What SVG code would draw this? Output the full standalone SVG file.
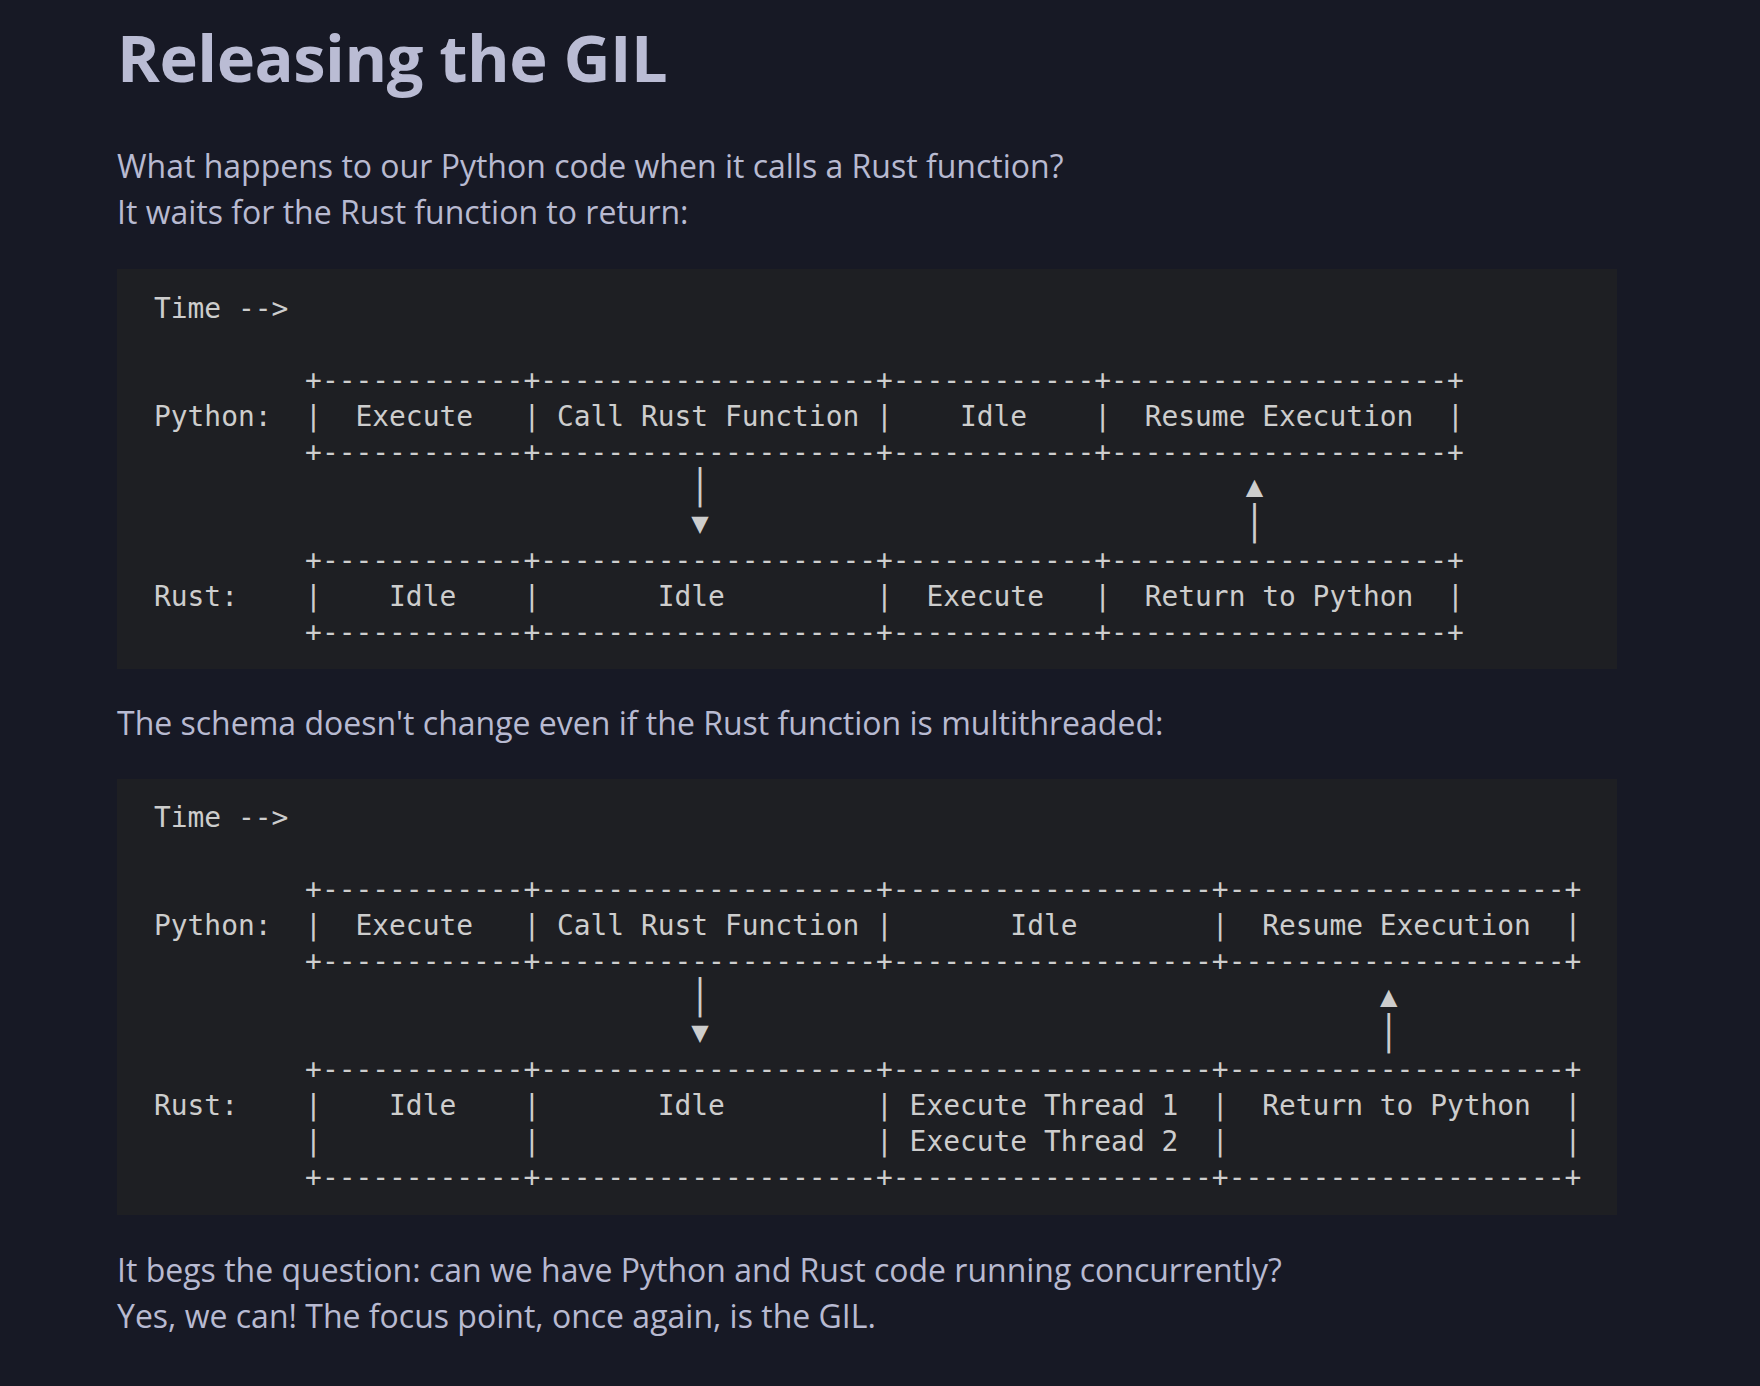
<svg xmlns="http://www.w3.org/2000/svg" width="1760" height="1386" viewBox="0 0 1760 1386">
<style>
.bg{fill:#171925}
.code-bg{fill:#1e1f23}
.title{font-family:"Open Sans","Noto Sans",sans-serif;font-weight:700;font-size:65px;letter-spacing:-0.5px;fill:#babcd4}
.para{font-family:"Open Sans","Noto Sans",sans-serif;font-size:32px;fill:#b8bad1}
.code{font-family:"DejaVu Sans Mono","Liberation Mono",monospace;font-size:27.9px;fill:#cdcdcd;white-space:pre}
.bar{font-family:"DejaVu Sans Mono","Liberation Mono",monospace;font-size:34px;fill:#cdcdcd;text-anchor:middle}
.head{font-family:"DejaVu Sans Mono","Liberation Mono",monospace;font-size:29px;fill:#cdcdcd;text-anchor:middle}
</style>
<rect class="bg" x="0" y="0" width="1760" height="1386"/>
<g id="title"><text class="title" x="117" y="82">Releasing the GIL</text></g>
<g id="intro">
<text class="para" x="117" y="178">What happens to our Python code when it calls a Rust function?</text>
<text class="para" x="117" y="224">It waits for the Rust function to return:</text>
</g>
<g id="block1">
<rect class="code-bg" x="117" y="269" width="1500" height="400"/>
<text class="code" x="154" y="317.5" xml:space="preserve">Time --&gt;</text>
<text class="code" x="154" y="389.5" xml:space="preserve">         +------------+--------------------+------------+--------------------+</text>
<text class="code" x="154" y="425.5" xml:space="preserve">Python:  |  Execute   | Call Rust Function |    Idle    |  Resume Execution  |</text>
<text class="code" x="154" y="461.5" xml:space="preserve">         +------------+--------------------+------------+--------------------+</text>
<text class="code" x="154" y="569.5" xml:space="preserve">         +------------+--------------------+------------+--------------------+</text>
<text class="code" x="154" y="605.5" xml:space="preserve">Rust:    |    Idle    |       Idle         |  Execute   |  Return to Python  |</text>
<text class="code" x="154" y="641.5" xml:space="preserve">         +------------+--------------------+------------+--------------------+</text>
</g>
<g id="middle"><text class="para" x="117" y="735">The schema doesn't change even if the Rust function is multithreaded:</text></g>
<g id="block2">
<rect class="code-bg" x="117" y="779" width="1500" height="436"/>
<text class="code" x="154" y="827.1" xml:space="preserve">Time --&gt;</text>
<text class="code" x="154" y="899.1" xml:space="preserve">         +------------+--------------------+-------------------+--------------------+</text>
<text class="code" x="154" y="935.1" xml:space="preserve">Python:  |  Execute   | Call Rust Function |       Idle        |  Resume Execution  |</text>
<text class="code" x="154" y="971.1" xml:space="preserve">         +------------+--------------------+-------------------+--------------------+</text>
<text class="code" x="154" y="1079.1" xml:space="preserve">         +------------+--------------------+-------------------+--------------------+</text>
<text class="code" x="154" y="1115.1" xml:space="preserve">Rust:    |    Idle    |       Idle         | Execute Thread 1  |  Return to Python  |</text>
<text class="code" x="154" y="1151.1" xml:space="preserve">         |            |                    | Execute Thread 2  |                    |</text>
<text class="code" x="154" y="1187.1" xml:space="preserve">         +------------+--------------------+-------------------+--------------------+</text>
</g>
<g id="connectors">
<text class="bar" x="700" y="499">│</text>
<text class="head" x="700" y="532.7">▼</text>
<text class="head" x="1254.4" y="496.2">▲</text>
<text class="bar" x="1254.4" y="535">│</text>
<text class="bar" x="700" y="1008.6">│</text>
<text class="head" x="700" y="1042.3">▼</text>
<text class="head" x="1388.8" y="1005.8">▲</text>
<text class="bar" x="1388.8" y="1044.6">│</text>
</g>
<g id="outro">
<text class="para" x="117" y="1282">It begs the question: can we have Python and Rust code running concurrently?</text>
<text class="para" x="117" y="1328">Yes, we can! The focus point, once again, is the GIL.</text>
</g>
</svg>
